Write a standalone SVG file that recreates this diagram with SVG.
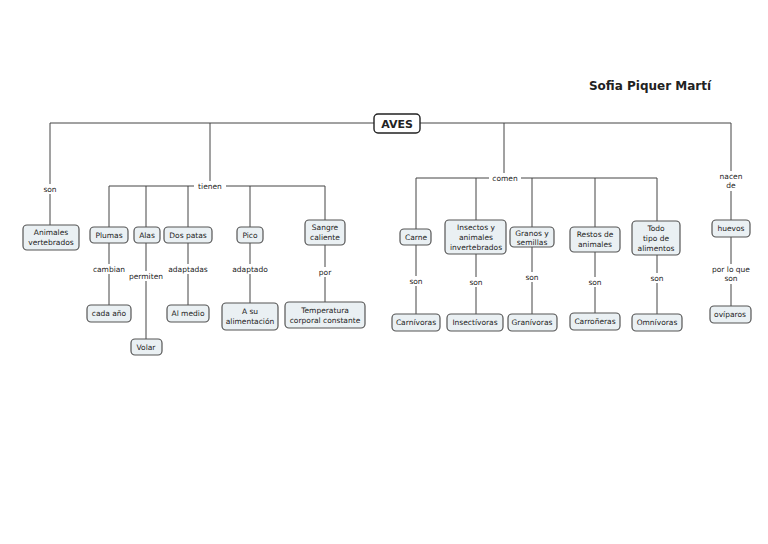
<svg xmlns="http://www.w3.org/2000/svg" width="768" height="544" viewBox="0 0 768 544">
<style>
.n rect{fill:#eaf0f3;stroke:#555;stroke-width:1.2}
text{font-family:"DejaVu Sans","Liberation Sans",sans-serif;font-size:7.5px;fill:#222;text-anchor:middle}
.c line{stroke:#444;stroke-width:1}
.l{fill:#fff}
</style>
<rect width="768" height="544" fill="#fff"/>
<text x="650" y="90" style="font-size:12px;font-weight:bold;text-anchor:middle">Sofia Piquer Martí</text>
<g class="c">
<line x1="50" y1="123" x2="731" y2="123"/>
<line x1="50" y1="123" x2="50" y2="225"/>
<line x1="210" y1="123" x2="210" y2="186"/>
<line x1="504" y1="123" x2="504" y2="178"/>
<line x1="731" y1="123" x2="731" y2="220"/>
<line x1="109" y1="186" x2="325" y2="186"/>
<line x1="109" y1="186" x2="109" y2="227"/>
<line x1="146" y1="186" x2="146" y2="227"/>
<line x1="188" y1="186" x2="188" y2="227"/>
<line x1="250" y1="186" x2="250" y2="227"/>
<line x1="325" y1="186" x2="325" y2="220"/>
<line x1="109" y1="243" x2="109" y2="305"/>
<line x1="146" y1="243" x2="146" y2="339"/>
<line x1="188" y1="243" x2="188" y2="305"/>
<line x1="250" y1="243" x2="250" y2="303"/>
<line x1="325" y1="245" x2="325" y2="302"/>
<line x1="416" y1="178" x2="657" y2="178"/>
<line x1="416" y1="178" x2="416" y2="229"/>
<line x1="476" y1="178" x2="476" y2="220"/>
<line x1="532" y1="178" x2="532" y2="227"/>
<line x1="595" y1="178" x2="595" y2="227"/>
<line x1="657" y1="178" x2="657" y2="221"/>
<line x1="416" y1="245" x2="416" y2="314"/>
<line x1="476" y1="254" x2="476" y2="314"/>
<line x1="532" y1="247" x2="532" y2="314"/>
<line x1="595" y1="252" x2="595" y2="314"/>
<line x1="657" y1="255" x2="657" y2="314"/>
<line x1="731" y1="237" x2="731" y2="306"/>
</g>
<g id="labels">
<rect class="l" x="38" y="184" width="24" height="10"/><text x="50" y="192">son</text>
<rect class="l" x="194" y="181" width="32" height="10"/><text x="210" y="189">tienen</text>
<rect class="l" x="489" y="173" width="32" height="10"/><text x="505" y="181">comen</text>
<rect class="l" x="715" y="171" width="32" height="20"/><text x="731" y="179">nacen</text><text x="731" y="188">de</text>
<rect class="l" x="90" y="264" width="38" height="10"/><text x="109" y="272">cambian</text>
<rect class="l" x="128" y="271" width="36" height="10"/><text x="146" y="279">permiten</text>
<rect class="l" x="166" y="264" width="44" height="10"/><text x="188" y="272">adaptadas</text>
<rect class="l" x="230" y="264" width="40" height="10"/><text x="250" y="272">adaptado</text>
<rect class="l" x="315" y="267" width="20" height="10"/><text x="325" y="275">por</text>
<rect class="l" x="406" y="276" width="20" height="10"/><text x="416" y="284">son</text>
<rect class="l" x="466" y="277" width="20" height="10"/><text x="476" y="285">son</text>
<rect class="l" x="522" y="272" width="20" height="10"/><text x="532" y="280">son</text>
<rect class="l" x="585" y="277" width="20" height="10"/><text x="595" y="285">son</text>
<rect class="l" x="647" y="273" width="20" height="10"/><text x="657" y="281">son</text>
<rect class="l" x="709" y="264" width="44" height="20"/><text x="731" y="272">por lo que</text><text x="731" y="281">son</text>
</g>
<g id="aves" class="n"><rect x="374" y="114" width="46" height="19" rx="4" style="stroke:#222;stroke-width:1.4;fill:#fff"/><text x="397" y="128" style="font-size:11px;font-weight:bold">AVES</text></g>
<g id="animales" class="n"><rect x="23" y="225" width="56" height="25" rx="4"/><text x="51" y="235">Animales</text><text x="51" y="245">vertebrados</text></g>
<g id="plumas" class="n"><rect x="90" y="227" width="38" height="16" rx="4"/><text x="109" y="238">Plumas</text></g>
<g id="alas" class="n"><rect x="134" y="227" width="26" height="16" rx="4"/><text x="147" y="238">Alas</text></g>
<g id="dospatas" class="n"><rect x="164" y="227" width="48" height="16" rx="4"/><text x="188" y="238">Dos patas</text></g>
<g id="pico" class="n"><rect x="237" y="227" width="26" height="16" rx="4"/><text x="250" y="238">Pico</text></g>
<g id="sangre" class="n"><rect x="305" y="220" width="40" height="25" rx="4"/><text x="325" y="230">Sangre</text><text x="325" y="240">caliente</text></g>
<g id="cadaano" class="n"><rect x="87" y="305" width="44" height="17" rx="4"/><text x="109" y="316">cada año</text></g>
<g id="volar" class="n"><rect x="131" y="339" width="31" height="16" rx="4"/><text x="146" y="350">Volar</text></g>
<g id="almedio" class="n"><rect x="167" y="305" width="42" height="17" rx="4"/><text x="188" y="316">Al medio</text></g>
<g id="asu" class="n"><rect x="222" y="303" width="56" height="27" rx="4"/><text x="250" y="314">A su</text><text x="250" y="324">alimentación</text></g>
<g id="temp" class="n"><rect x="285" y="302" width="80" height="26" rx="4"/><text x="325" y="313">Temperatura</text><text x="325" y="323">corporal constante</text></g>
<g id="carne" class="n"><rect x="400" y="229" width="31" height="16" rx="4"/><text x="416" y="240">Carne</text></g>
<g id="insectos" class="n"><rect x="445" y="220" width="61" height="34" rx="4"/><text x="476" y="230">Insectos y</text><text x="476" y="240">animales</text><text x="476" y="250">invertebrados</text></g>
<g id="granos" class="n"><rect x="510" y="227" width="44" height="20" rx="4"/><text x="532" y="236">Granos y</text><text x="532" y="245">semillas</text></g>
<g id="restos" class="n"><rect x="570" y="227" width="50" height="25" rx="4"/><text x="595" y="237">Restos de</text><text x="595" y="247">animales</text></g>
<g id="todo" class="n"><rect x="632" y="221" width="48" height="34" rx="4"/><text x="656" y="231">Todo</text><text x="656" y="241">tipo de</text><text x="656" y="251">alimentos</text></g>
<g id="huevos" class="n"><rect x="712" y="220" width="38" height="17" rx="4"/><text x="731" y="231">huevos</text></g>
<g id="carnivoras" class="n"><rect x="392" y="314" width="48" height="17" rx="4"/><text x="416" y="325">Carnívoras</text></g>
<g id="insectivoras" class="n"><rect x="447" y="314" width="56" height="17" rx="4"/><text x="475" y="325">Insectívoras</text></g>
<g id="granivoras" class="n"><rect x="508" y="314" width="49" height="17" rx="4"/><text x="532" y="325">Granívoras</text></g>
<g id="carroneras" class="n"><rect x="570" y="313" width="50" height="17" rx="4"/><text x="595" y="324">Carroñeras</text></g>
<g id="omnivoras" class="n"><rect x="632" y="314" width="50" height="17" rx="4"/><text x="657" y="325">Omnívoras</text></g>
<g id="oviparos" class="n"><rect x="710" y="306" width="41" height="17" rx="4"/><text x="730" y="317">ovíparos</text></g>
</svg>
